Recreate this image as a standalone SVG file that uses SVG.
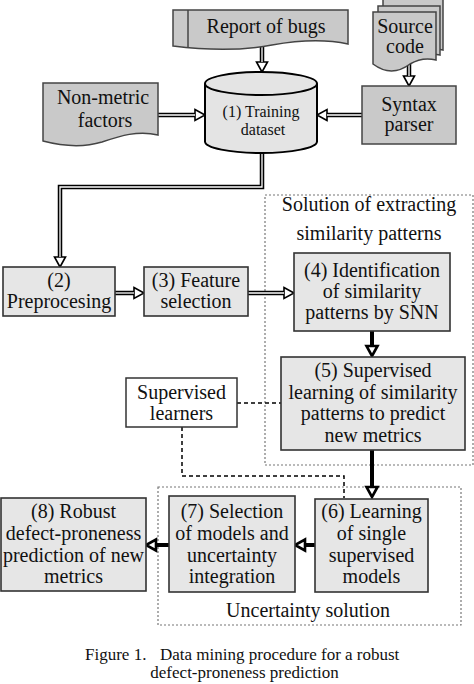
<svg xmlns="http://www.w3.org/2000/svg" width="474" height="684" viewBox="0 0 474 684">
<defs>
<style>
text{font-family:"Liberation Serif","Times New Roman",serif;fill:#111;text-anchor:middle}
.t20{font-size:20px}
.t16{font-size:16px}
.cap{font-size:17px}
.doc{fill:#c9c9c9;stroke:#444;stroke-width:1.5}
.box{fill:#e6e6e6;stroke:#333;stroke-width:1.6}
.gbox{fill:#c9c9c9;stroke:#444;stroke-width:1.5}
.wbox{fill:#fff;stroke:#333;stroke-width:1.5}
.grp{fill:none;stroke:#777;stroke-width:1.2;stroke-dasharray:2,2}
.dbl{fill:none;stroke:#000;stroke-width:4.5}
.dbli{fill:none;stroke:#fff;stroke-width:1.3}
.thick{fill:none;stroke:#000;stroke-width:4}
.dash{fill:none;stroke:#000;stroke-width:1.5;stroke-dasharray:4,3}
</style>
<marker id="open" viewBox="-1 -7 13 14" markerWidth="13" markerHeight="14" refX="0" refY="0" orient="auto" markerUnits="userSpaceOnUse">
<path d="M0,-5.5 L10,0 L0,5.5 Z" fill="#fff" stroke="#000" stroke-width="1.6"/>
</marker>
<marker id="heavy" viewBox="-2 -8 15 16" markerWidth="15" markerHeight="16" refX="0" refY="0" orient="auto" markerUnits="userSpaceOnUse">
<path d="M0,-5.5 L10,0 L0,5.5 Z" fill="#fff" stroke="#000" stroke-width="2.6"/>
</marker>
</defs>

<g id="groups">
<rect class="grp" x="265" y="195" width="208" height="270"/>
<text class="t20" x="369" y="211">Solution of extracting</text>
<text class="t20" x="369" y="240">similarity patterns</text>
<rect class="grp" x="158" y="487" width="303" height="138"/>
<text class="t20" x="308" y="617">Uncertainty solution</text>
</g>

<g id="connectors">
<path class="dbl" d="M262,45 V62" marker-end="url(#open)"/>
<path class="dbli" d="M262,45 V62"/>
<path class="dbl" d="M158,115 H195" marker-end="url(#open)"/>
<path class="dbli" d="M158,115 H195"/>
<path class="dbl" d="M362,115 H327" marker-end="url(#open)"/>
<path class="dbli" d="M362,115 H327"/>
<path class="dbl" d="M409,64 V76" marker-end="url(#open)"/>
<path class="dbli" d="M409,64 V76"/>
<path class="dbl" d="M262,153 V187 H60 V257" marker-end="url(#open)"/>
<path class="dbli" d="M262,153 V187 H60 V257"/>
<path class="dbl" d="M115,293 H134" marker-end="url(#open)"/>
<path class="dbli" d="M115,293 H134"/>
<path class="dbl" d="M248,293 H284" marker-end="url(#open)"/>
<path class="dbli" d="M248,293 H284"/>
<path class="thick" d="M372,331 V346" marker-end="url(#heavy)"/>
<path class="thick" d="M372,450 V487" marker-end="url(#heavy)"/>
<path class="thick" d="M315,545 H305" marker-end="url(#heavy)"/>
<path class="thick" d="M169,545 H156" marker-end="url(#heavy)"/>
<path class="dash" d="M237,403 H281"/>
<path class="dash" d="M182,427 V476 H344 V498"/>
</g>

<g id="report">
<path class="doc" d="M173,10 H348 V44 C325,39 300,40 272,45 C240,51 205,50 173,46 Z"/>
<line x1="188" y1="10" x2="188" y2="47" stroke="#444" stroke-width="1.5"/>
<text class="t20" x="266" y="33">Report of bugs</text>
</g>

<g id="source">
<path class="doc" d="M383,-4 H443 V50 C436,48 430,49 422,54 C410,62 395,62 383,56 Z"/>
<path class="doc" d="M378,6 H440 V55 C432,53 425,54 416,59 C404,67 390,67 378,61 Z"/>
<path class="doc" d="M373,12 H436 V60 C428,58 420,58 410,64 C398,73 385,73 373,64 Z"/>
<text class="t20" x="405" y="33">Source</text>
<text class="t20" x="405" y="53">code</text>
</g>

<g id="nonmetric">
<path class="doc" d="M43,83 H158 V135 C138,130 120,136 102,142 C82,148 62,146 43,141 Z"/>
<text class="t20" x="103" y="104">Non-metric</text>
<text class="t20" x="105" y="127">factors</text>
</g>

<g id="dataset">
<path d="M205,83.5 V141.5 A56,11.5 0 0 0 317,141.5 V83.5" fill="#e4e4e4" stroke="#000" stroke-width="2"/>
<ellipse cx="261" cy="83.5" rx="56" ry="11.5" fill="#e4e4e4" stroke="#000" stroke-width="2"/>
<text class="t16" x="261" y="117">(1) Training</text>
<text class="t16" x="263" y="135">dataset</text>
</g>

<g id="syntax">
<rect class="gbox" x="362" y="86" width="94" height="58"/>
<text class="t20" x="409" y="111">Syntax</text>
<text class="t20" x="409" y="131">parser</text>
</g>

<g id="n2">
<rect class="box" x="3" y="267" width="112" height="49"/>
<text class="t20" x="59" y="287">(2)</text>
<text class="t20" x="59" y="308">Preprocesing</text>
</g>

<g id="n3">
<rect class="box" x="144" y="267" width="104" height="49"/>
<text class="t20" x="196" y="287">(3) Feature</text>
<text class="t20" x="196" y="308">selection</text>
</g>

<g id="n4">
<rect class="box" x="294" y="253" width="156" height="78"/>
<text class="t20" x="372" y="277">(4) Identification</text>
<text class="t20" x="372" y="298">of similarity</text>
<text class="t20" x="372" y="319">patterns by SNN</text>
</g>

<g id="n5">
<rect class="box" x="281" y="357" width="184" height="93"/>
<text class="t20" x="373" y="377">(5) Supervised</text>
<text class="t20" x="373" y="399">learning of similarity</text>
<text class="t20" x="373" y="420">patterns to predict</text>
<text class="t20" x="373" y="442">new metrics</text>
</g>

<g id="learners">
<rect class="wbox" x="126" y="378" width="111" height="49"/>
<text class="t20" x="181.5" y="399">Supervised</text>
<text class="t20" x="181.5" y="420">learners</text>
</g>

<g id="n6">
<rect class="box" x="315" y="499" width="113" height="93"/>
<text class="t20" x="371.5" y="518">(6) Learning</text>
<text class="t20" x="371.5" y="540">of single</text>
<text class="t20" x="371.5" y="562">supervised</text>
<text class="t20" x="371.5" y="583">models</text>
</g>

<g id="n7">
<rect class="box" x="169" y="496" width="126" height="96"/>
<text class="t20" x="232" y="518">(7) Selection</text>
<text class="t20" x="232" y="540">of models and</text>
<text class="t20" x="232" y="562">uncertainty</text>
<text class="t20" x="232" y="583">integration</text>
</g>

<g id="n8">
<rect class="box" x="1" y="498" width="145" height="93"/>
<text class="t20" x="73.5" y="518">(8) Robust</text>
<text class="t20" x="73.5" y="540">defect-proneness</text>
<text class="t20" x="73.5" y="562">prediction of new</text>
<text class="t20" x="73.5" y="583">metrics</text>
</g>

<g id="caption">
<text class="cap" x="85" y="660" style="text-anchor:start">Figure 1.</text>
<text class="cap" x="160" y="660" style="text-anchor:start">Data mining procedure for a robust</text>
<text class="cap" x="244.5" y="678">defect-proneness prediction</text>
</g>
</svg>
